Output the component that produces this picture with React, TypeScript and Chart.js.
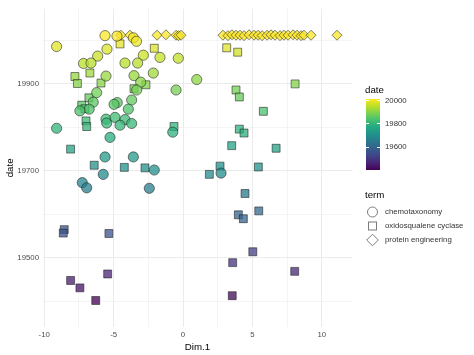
import React, { useEffect, useRef } from "react";
import { Chart, registerables } from "chart.js";

Chart.register(...registerables);

// ---- data ----
const chemoX = [-9.11, -5.62, -4.76, -3.58, -3.35, -5.48, -6.15, -2.86, -1.66, -0.34, -7.17, -6.63, -4.18, -3.27, -2.14, -3.53, -5.55, 0.99, -3.05, -3.34, -0.5, -6.22, -6.47, -3.7, -4.74, -4.97, -6.76, -7.43, -3.94, -9.11, -5.55, -5.5, -4.9, -4.18, -4.54, -3.7, -5.26, -0.74, -5.62, -3.58, -5.75, -2.07, -7.26, -6.94, -2.43, 2.74];
const chemoDate = [19986, 20011, 20010, 20006, 19998, 19980, 19964, 19966, 19961, 19959, 19947, 19948, 19948, 19948, 19925, 19919, 19918, 19910, 19904, 19886, 19886, 19880, 19858, 19863, 19857, 19853, 19842, 19838, 19842, 19798, 19819, 19810, 19823, 19818, 19805, 19809, 19777, 19789, 19732, 19732, 19692, 19702, 19673, 19661, 19660, 19695];

const oscX = [-4.54, -2.07, 3.15, 3.94, -7.79, -7.61, -6.71, -5.91, -2.67, -3.53, 8.08, 3.82, 4.06, -6.78, -7.3, -7.07, 5.79, -6.99, -6.94, -0.65, 4.06, 4.4, 3.51, 6.71, -8.1, -6.4, -4.23, -2.74, 2.67, 5.43, 1.9, 4.47, 3.99, 4.35, 5.46, -8.56, -8.63, -5.34, 5.03, 3.58, 8.05, -5.43, -8.1, -7.43, -6.29, 3.55];
const oscDate = [19992, 19982, 19983, 19973, 19917, 19901, 19925, 19902, 19898, 19889, 19900, 19886, 19870, 19868, 19851, 19843, 19837, 19815, 19802, 19802, 19796, 19787, 19758, 19752, 19750, 19713, 19708, 19707, 19711, 19709, 19692, 19648, 19599, 19590, 19608, 19565, 19557, 19556, 19514, 19489, 19469, 19463, 19448, 19431, 19402, 19413];

const protX = [-4.47, -3.82, -1.87, -1.23, -0.5, -0.32, -0.14, 2.88, 3.24, 3.53, 3.82, 4.11, 4.4, 4.76, 5.12, 5.41, 5.7, 6.06, 6.34, 6.63, 6.99, 7.28, 7.57, 7.93, 8.22, 8.51, 8.72, 9.23, 11.1];
const protDate = [20012, 20012, 20012, 20013, 20012, 20011, 20012, 20012, 20011, 20013, 20012, 20012, 20011, 20013, 20012, 20012, 20011, 20012, 20013, 20012, 20011, 20012, 20012, 20013, 20012, 20011, 20012, 20012, 20012];

const termLabels = ["chemotaxonomy", "oxidosqualene cyclase", "protein engineering"];
const xTicks = [-10, -7.5, -5, -2.5, 0, 2.5, 5, 7.5, 10];
const xLabelTicks = [-10, -5, 0, 5, 10];
const yTicks = [19400, 19500, 19600, 19700, 19800, 19900, 20000];
const yLabelTicks = [19500, 19700, 19900];
const colorBreaks = [20000, 19800, 19600];
const dateMin = 19402;
const dateMax = 20014;

// ---- style ----
const FONT = "'Liberation Sans', Arial, Helvetica, sans-serif";
const VIRIDIS = ["#440154", "#482475", "#414487", "#355f8d", "#2a788e", "#21918c", "#22a884", "#44bf70", "#7ad151", "#bddf26", "#fde725"];

function hexToRgb(h: string) {
  const n = parseInt(h.slice(1), 16);
  return [(n >> 16) & 255, (n >> 8) & 255, n & 255];
}
function viridis(t: number, alpha = 1) {
  t = Math.max(0, Math.min(1, t));
  const p = t * (VIRIDIS.length - 1);
  const i = Math.min(Math.floor(p), VIRIDIS.length - 2);
  const f = p - i;
  const a = hexToRgb(VIRIDIS[i]);
  const b = hexToRgb(VIRIDIS[i + 1]);
  const c = a.map((v, k) => Math.round(v + (b[k] - v) * f));
  return `rgba(${c[0]},${c[1]},${c[2]},${alpha})`;
}
const dateColor = (d: number, alpha = 0.75) => viridis((d - dateMin) / (dateMax - dateMin), alpha);

// panel geometry
const W = 474, H = 355;
const PANEL_LEFT = 43, PANEL_RIGHT = 352, PANEL_TOP = 5, PANEL_BOTTOM = 327;
const X_MIN = -10.09, X_MAX = 12.18, Y_MIN = 19341, Y_MAX = 20073;

function makeDataset(label: string, xs: number[], ds: number[], style: string, radius: number) {
  return {
    label,
    data: xs.map((x, i) => ({ x, y: ds[i] })),
    pointStyle: style,
    pointRadius: radius,
    pointHoverRadius: radius,
    pointBackgroundColor: (ctx: any) => (ctx.raw ? dateColor(ctx.raw.y) : "#000"),
    pointBorderColor: "rgba(25,25,25,0.72)",
    pointBorderWidth: 0.75,
    showLine: false,
  };
}

function ChartCanvas() {
  const ref = useRef<HTMLCanvasElement | null>(null);
  useEffect(() => {
    if (!ref.current) return;
    const chart = new Chart(ref.current, {
      type: "scatter",
      data: {
        datasets: [
          makeDataset(termLabels[0], chemoX, chemoDate, "circle", 5.1),
          makeDataset(termLabels[1], oscX, oscDate, "rect", 5.6),
          makeDataset(termLabels[2], protX, protDate, "rectRot", 5),
        ] as any,
      },
      options: {
        responsive: false,
        animation: false,
        events: [],
        devicePixelRatio: 1,
        layout: { padding: { top: PANEL_TOP, right: W - PANEL_RIGHT, left: 0, bottom: 0 } },
        plugins: { legend: { display: false }, tooltip: { enabled: false } },
        scales: {
          x: {
            type: "linear",
            min: X_MIN,
            max: X_MAX,
            afterBuildTicks: (s: any) => { s.ticks = xTicks.map((v) => ({ value: v })); },
            afterFit: (s: any) => { s.height = H - PANEL_BOTTOM; },
            border: { display: false },
            grid: {
              drawTicks: false,
              color: "#EBEBEB",
              lineWidth: (c: any) => (c.tick && xLabelTicks.includes(c.tick.value) ? 1 : 0.55),
            },
            ticks: {
              autoSkip: false,
              maxRotation: 0,
              padding: 3,
              color: "#4D4D4D",
              font: { family: FONT, size: 7.8 },
              callback: (v: any) => (xLabelTicks.includes(Number(v)) ? String(Number(v)) : ""),
            },
            title: {
              display: true,
              text: "Dim.1",
              color: "#000",
              font: { family: FONT, size: 9.7 },
              padding: { top: 0, bottom: 2 },
            },
          },
          y: {
            type: "linear",
            min: Y_MIN,
            max: Y_MAX,
            afterBuildTicks: (s: any) => { s.ticks = yTicks.map((v) => ({ value: v })); },
            afterFit: (s: any) => { s.width = PANEL_LEFT; },
            border: { display: false },
            grid: {
              drawTicks: false,
              color: "#EBEBEB",
              lineWidth: (c: any) => (c.tick && yLabelTicks.includes(c.tick.value) ? 1 : 0.55),
            },
            ticks: {
              autoSkip: false,
              padding: 4,
              color: "#4D4D4D",
              font: { family: FONT, size: 7.8 },
              callback: (v: any) => (yLabelTicks.includes(Number(v)) ? String(v) : ""),
            },
            title: {
              display: true,
              text: "date",
              color: "#000",
              font: { family: FONT, size: 9.7 },
              padding: { top: 5, bottom: 0 },
            },
          },
        },
      } as any,
    });
    return () => chart.destroy();
  }, []);
  return <canvas ref={ref} width={W} height={H} style={{ position: "absolute", left: 0, top: 0 }} />;
}

const BAR_LEFT = 366, BAR_TOP = 99, BAR_W = 14, BAR_H = 71;
const barY = (v: number) => BAR_TOP + ((dateMax - v) / (dateMax - dateMin)) * BAR_H;

function Legend() {
  const grad = `linear-gradient(to top, ${VIRIDIS.join(", ")})`;
  const txt = (size: number, color: string) => ({
    position: "absolute" as const,
    fontFamily: FONT,
    fontSize: size,
    color,
    lineHeight: "12px",
    whiteSpace: "nowrap" as const,
  });
  const itemY = [211.7, 225.7, 240];
  return (
    <div>
      <div style={{ ...txt(9.7, "#000"), left: 365, top: 90 - 6 }}>date</div>
      <div style={{ position: "absolute", left: BAR_LEFT, top: BAR_TOP, width: BAR_W, height: BAR_H, background: grad }} />
      {colorBreaks.map((b) => (
        <React.Fragment key={b}>
          <div style={{ position: "absolute", left: BAR_LEFT, top: barY(b) - 0.5, width: 3, height: 1, background: "#fff" }} />
          <div style={{ position: "absolute", left: BAR_LEFT + BAR_W - 3, top: barY(b) - 0.5, width: 3, height: 1, background: "#fff" }} />
          <div style={{ ...txt(7.8, "#333"), left: 385, top: barY(b) - 6 }}>{b}</div>
        </React.Fragment>
      ))}
      <div style={{ ...txt(9.7, "#000"), left: 365, top: 195 - 6 }}>term</div>
      {termLabels.map((t, i) => (
        <React.Fragment key={t}>
          <svg style={{ position: "absolute", left: 364, top: itemY[i] - 8 }} width={17} height={16}>
            {i === 0 && <circle cx={8.5} cy={8} r={5} fill="none" stroke="#7a7a7a" strokeWidth={1} />}
            {i === 1 && <rect x={4.5} y={4} width={8} height={8} fill="none" stroke="#7a7a7a" strokeWidth={1} />}
            {i === 2 && <polygon points="8.5,2.2 14.3,8 8.5,13.8 2.7,8" fill="none" stroke="#7a7a7a" strokeWidth={1} />}
          </svg>
          <div style={{ ...txt(7.8, "#333"), left: 385, top: itemY[i] - 6 }}>{t}</div>
        </React.Fragment>
      ))}
    </div>
  );
}

export default function App() {
  return (
    <div style={{ position: "fixed", left: 0, top: 0, width: W, height: H, background: "#fff", overflow: "hidden" }}>
      <ChartCanvas />
      <Legend />
    </div>
  );
}
